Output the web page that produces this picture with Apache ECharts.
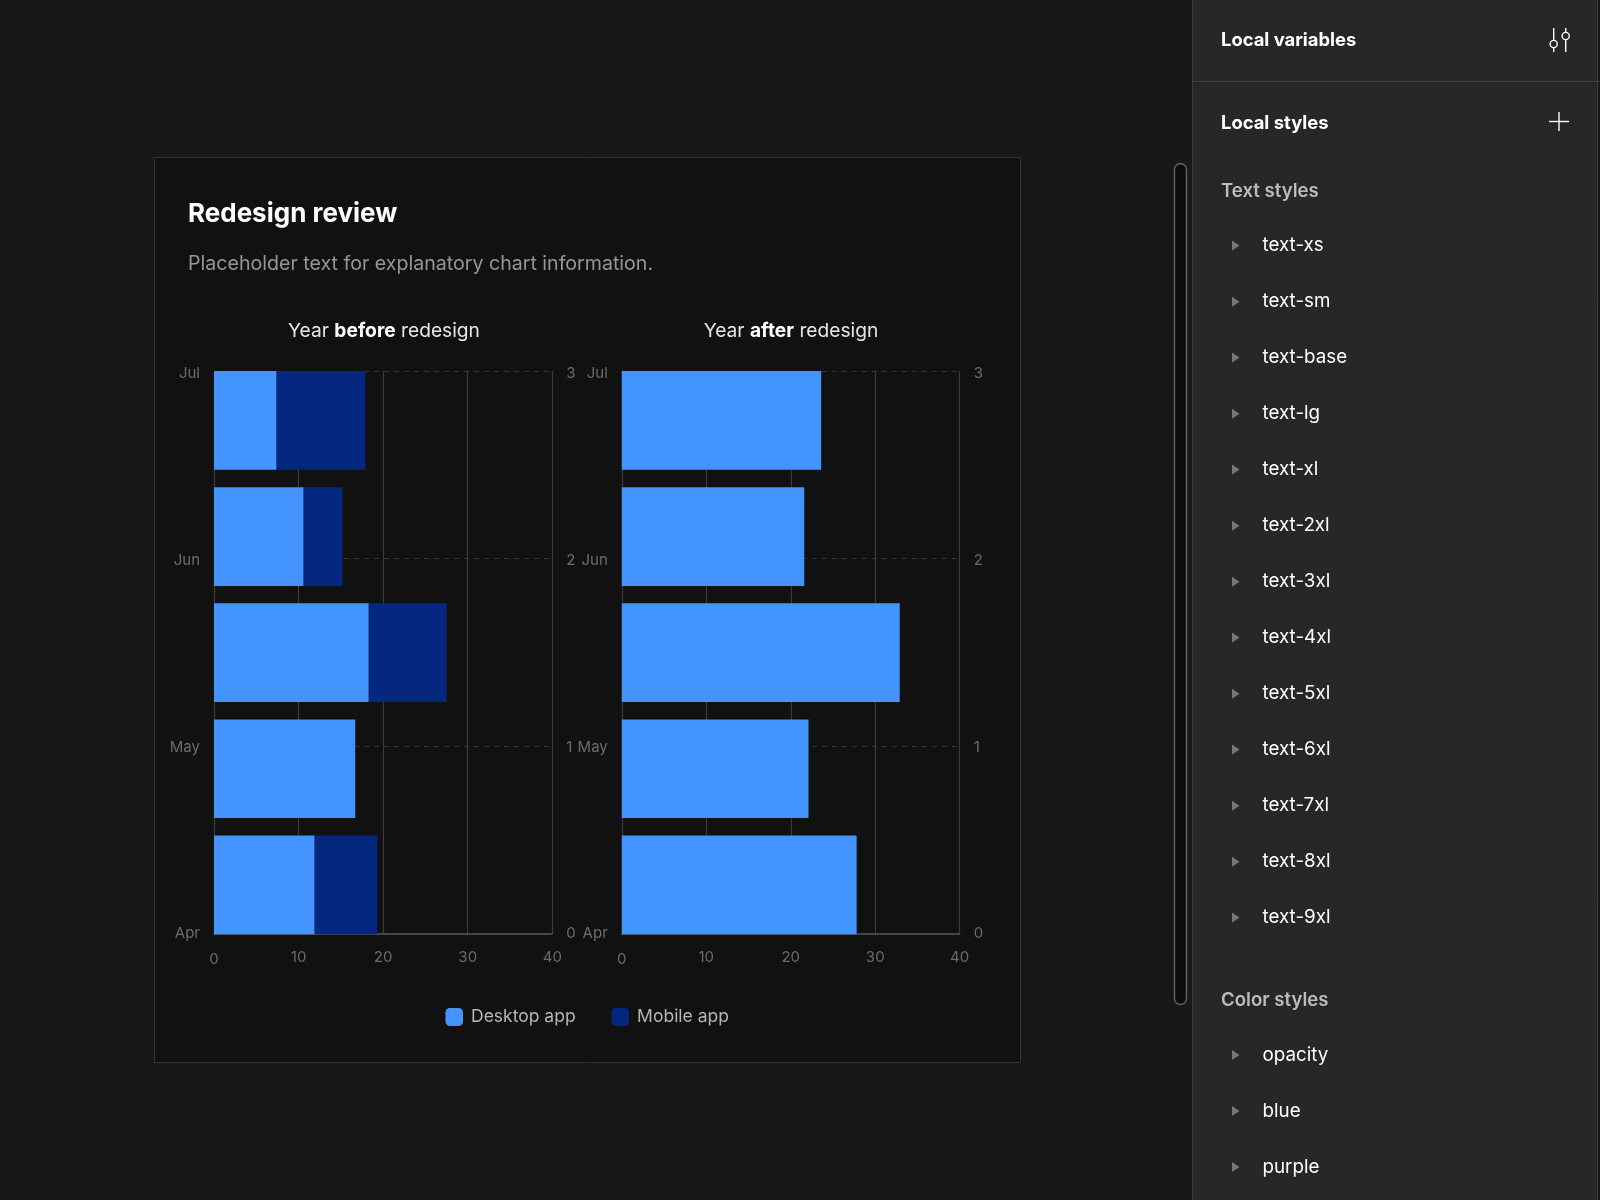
<!DOCTYPE html>
<html>
<head>
<meta charset="utf-8">
<title>Redesign review</title>
<style>
  html, body { margin: 0; padding: 0; background: #181818; }
  #chart { width: 1600px; height: 1200px; }
</style>
<script src="https://cdn.jsdelivr.net/npm/echarts@6/dist/echarts.min.js"></script>
</head>
<body>
<div id="chart"></div>
<script>
// Chart values, one bar per slot from the bottom of each panel upward
const barSlots = ['Slot 1', 'Slot 2', 'Slot 3', 'Slot 4', 'Slot 5'];
const beforeDesktop = [11.9, 16.7, 18.3, 10.6, 7.4];
const beforeMobile = [7.4, 0, 9.2, 4.6, 10.5];
const afterDesktop = [27.8, 22.1, 32.9, 21.6, 23.6];
const monthTicks = ['Apr', 'May', 'Jun', 'Jul'];

// Side panel contents
const textStyleNames = ['text-xs', 'text-sm', 'text-base', 'text-lg', 'text-xl', 'text-2xl', 'text-3xl',
  'text-4xl', 'text-5xl', 'text-6xl', 'text-7xl', 'text-8xl', 'text-9xl'];
const textStyleRows = [245.5, 301.8, 357.5, 413.8, 469.5, 525.8, 581.8, 637.5, 693.8, 749.5, 805.8, 861.8, 917.5];
const colorStyleNames = ['opacity', 'blue', 'purple'];
const colorStyleRows = [1055, 1111, 1167];

const FONT = 'Inter, "Noto Sans", sans-serif';
const TICK = '#6c6c6c';
const DESKTOP = '#4394ff';
const MOBILE = '#05277f';

const panels = [
  { left: 214, width: 338.3, center: 383.5, word: 'before' },
  { left: 621.8, width: 337.9, center: 790.5, word: 'after' }
];
const plotTop = 371, plotHeight = 563;
// Bars sit flush with the plot edges, so their bands overhang it by half a gap
const barThickness = 98.7, bandOverhang = 8.9;

// Per-tick vertical nudges for the y labels, keyed by tick value
const nudgeStyles = ['up', 'down1', 'down2', 'down2'];
const tickRich = {
  up: { color: TICK, fontFamily: FONT, fontSize: 15, padding: [0, 0, 2, 0] },
  down1: { color: TICK, fontFamily: FONT, fontSize: 15, padding: [2, 0, 0, 0] },
  down2: { color: TICK, fontFamily: FONT, fontSize: 15, padding: [4, 0, 0, 0] }
};

const grids = [], xAxes = [], yAxes = [];
panels.forEach((p) => {
  // Axis grid: ticks, gridlines and labels
  const axisGrid = grids.length;
  grids.push({ left: p.left, width: p.width, top: plotTop, height: plotHeight });
  xAxes.push({
    gridIndex: axisGrid, type: 'value', min: 0, max: 40, interval: 10,
    axisTick: { show: false },
    axisLine: { show: true, onZero: false, lineStyle: { color: '#565656', width: 1.5 } },
    splitLine: { show: true, lineStyle: { color: '#3b3b3b', width: 1.2 } },
    axisLabel: {
      color: TICK, fontFamily: FONT, fontSize: 15, margin: 16,
      formatter: (v) => (v === 0 ? '{zero|0}' : String(v)),
      rich: { zero: { color: TICK, fontFamily: FONT, fontSize: 15, padding: [2, 0, 0, 0] } }
    }
  });
  yAxes.push({
    gridIndex: axisGrid, type: 'value', min: 0, max: 3, interval: 1, position: 'left',
    axisLine: { show: false }, axisTick: { show: false }, splitLine: { show: false },
    axisLabel: {
      margin: 14, rich: tickRich,
      formatter: (v) => `{${nudgeStyles[v]}|${monthTicks[v]}}`
    }
  });
  yAxes.push({
    gridIndex: axisGrid, type: 'value', min: 0, max: 3, interval: 1, position: 'right',
    axisLine: { show: false }, axisTick: { show: false },
    splitLine: { show: true, lineStyle: { color: '#343434', type: [5, 5], width: 1 } },
    axisLabel: {
      margin: 14, rich: tickRich,
      formatter: (v) => `{${nudgeStyles[v]}|${v}}`
    }
  });

  // Bar grid: five equal bands across the plot, no visible axes
  const barGrid = grids.length;
  grids.push({ left: p.left, width: p.width, top: plotTop - bandOverhang + 0.3, height: plotHeight + 2 * bandOverhang - 0.3 });
  p.xIndex = xAxes.length;
  xAxes.push({ gridIndex: barGrid, type: 'value', min: 0, max: 40, show: false });
  p.yIndex = yAxes.length;
  yAxes.push({ gridIndex: barGrid, type: 'category', data: barSlots, show: false });
});

const barSeries = (name, panel, values, color, stack) => ({
  name, type: 'bar', stack, data: values,
  xAxisIndex: panel.xIndex, yAxisIndex: panel.yIndex,
  barWidth: barThickness, silent: true,
  itemStyle: { color }
});

const titles = [
  { left: 183, top: 196, text: 'Redesign review',
    textStyle: { color: '#ffffff', fontFamily: FONT, fontSize: 26, fontWeight: 700 } },
  { left: 183, top: 249, text: 'Placeholder text for explanatory chart information.',
    textStyle: { color: '#969696', fontFamily: FONT, fontSize: 19.6, fontWeight: 400 } }
].concat(panels.map((p) => ({
  left: p.center - 4.5, top: 317, textAlign: 'center',
  text: `{r|Year }{b|${p.word}}{r| redesign}`,
  textStyle: {
    rich: {
      r: { color: '#e6e6e6', fontFamily: FONT, fontSize: 19.2, fontWeight: 400 },
      b: { color: '#ffffff', fontFamily: FONT, fontSize: 19.2, fontWeight: 700 }
    }
  }
})));

// Page furniture behind and beside the chart
const backdrop = -10;
const graphics = [
  { type: 'rect', z: backdrop, shape: { x: 154.5, y: 157.5, width: 866, height: 905 },
    style: { fill: '#111111', stroke: '#333333', lineWidth: 1 } },
  { type: 'rect', z: backdrop, shape: { x: 1192.5, y: -2, width: 405, height: 1204 },
    style: { fill: '#272727', stroke: '#3c3c3c', lineWidth: 1 } },
  { type: 'rect', z: backdrop, shape: { x: 1174.5, y: 163.5, width: 12, height: 841, r: 6 },
    style: { fill: '#0d0d0d', stroke: '#626262', lineWidth: 1.5 } },
  { type: 'line', shape: { x1: 1193, y1: 81.5, x2: 1600, y2: 81.5 }, style: { stroke: '#3f3f3f', lineWidth: 1 } },
  // sliders icon
  { type: 'line', shape: { x1: 1553.7, y1: 28, x2: 1553.7, y2: 52 }, style: { stroke: '#fff', lineWidth: 1.4 } },
  { type: 'circle', shape: { cx: 1553.7, cy: 44, r: 3.6 }, style: { fill: '#272727', stroke: '#fff', lineWidth: 1.4 } },
  { type: 'line', shape: { x1: 1565.7, y1: 28, x2: 1565.7, y2: 52 }, style: { stroke: '#fff', lineWidth: 1.4 } },
  { type: 'circle', shape: { cx: 1565.7, cy: 36, r: 3.6 }, style: { fill: '#272727', stroke: '#fff', lineWidth: 1.4 } },
  // plus icon
  { type: 'line', shape: { x1: 1549, y1: 121.5, x2: 1569, y2: 121.5 }, style: { stroke: '#fff', lineWidth: 1.4 } },
  { type: 'line', shape: { x1: 1559, y1: 112, x2: 1559, y2: 131 }, style: { stroke: '#fff', lineWidth: 1.4 } }
];

const panelText = (text, x, y, fill, fontSize, fontWeight) => ({
  type: 'text', x, y,
  style: { text, fill, fontFamily: FONT, fontSize, fontWeight, verticalAlign: 'middle' }
});
graphics.push(panelText('Local variables', 1221, 40, '#ffffff', 18.4, 700));
graphics.push(panelText('Local styles', 1221, 123, '#ffffff', 18.4, 700));
graphics.push(panelText('Text styles', 1221, 191, '#bcbcbc', 18.6, 600));
graphics.push(panelText('Color styles', 1221, 1000, '#bcbcbc', 18.6, 600));

const styleRow = (name, y) => {
  graphics.push({
    type: 'polygon',
    shape: { points: [[1232, y - 5], [1239.5, y], [1232, y + 5]] },
    style: { fill: '#777777' }
  });
  graphics.push(panelText(name, 1262.5, y, '#ffffff', 18.8, 400));
};
textStyleNames.forEach((n, i) => styleRow(n, textStyleRows[i]));
colorStyleNames.forEach((n, i) => styleRow(n, colorStyleRows[i]));

const chart = echarts.init(document.getElementById('chart'), null, { width: 1600, height: 1200 });
chart.setOption({
  animation: false,
  backgroundColor: '#181818',
  title: titles,
  grid: grids,
  xAxis: xAxes,
  yAxis: yAxes,
  legend: {
    left: 440.5, top: 1003, itemWidth: 17.5, itemHeight: 18, itemGap: 36, icon: 'roundRect',
    selectedMode: false,
    data: ['Desktop app', 'Mobile app'],
    textStyle: { color: '#b6b6b6', fontFamily: FONT, fontSize: 17.5, padding: [0, 0, 0, 3] }
  },
  series: [
    barSeries('Desktop app', panels[0], beforeDesktop, DESKTOP, 'before'),
    barSeries('Mobile app', panels[0], beforeMobile, MOBILE, 'before'),
    barSeries('Desktop app', panels[1], afterDesktop, DESKTOP, 'after')
  ],
  graphic: { elements: graphics }
});
</script>
</body>
</html>
